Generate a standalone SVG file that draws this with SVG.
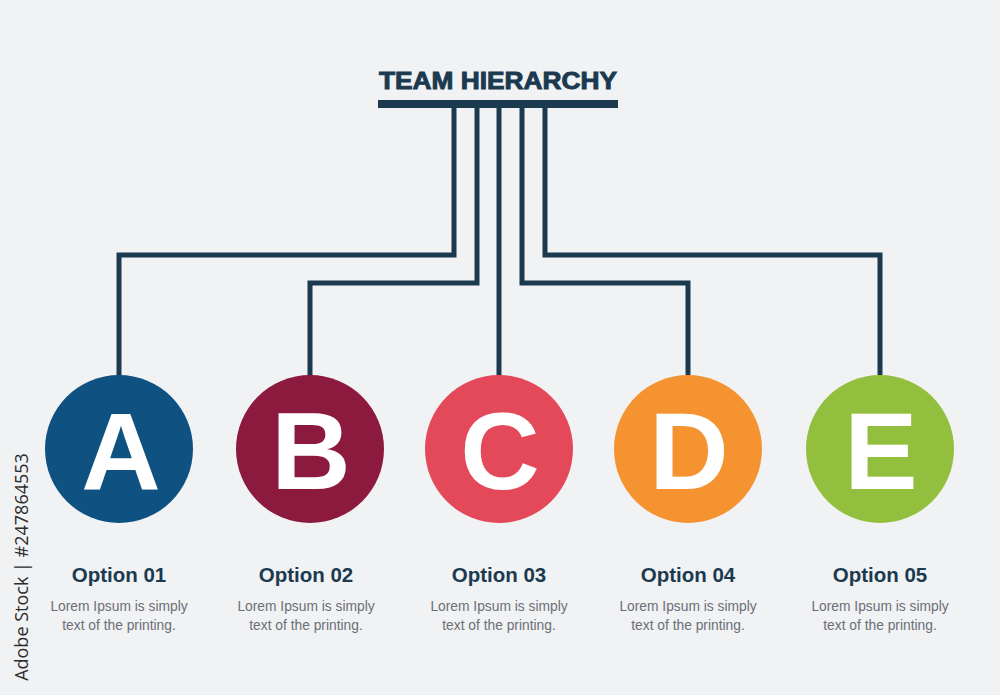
<svg xmlns="http://www.w3.org/2000/svg" width="1000" height="695" viewBox="0 0 1000 695">
<style>
.conn{fill:none;stroke:#1b3a50;stroke-width:5;stroke-linejoin:miter}
.letter{font-family:"Liberation Sans",Arial,sans-serif;font-weight:bold;font-size:110px;fill:#ffffff;text-anchor:middle}
.opt{font-family:"Liberation Sans",Arial,sans-serif;font-weight:bold;font-size:20.5px;fill:#1b3a50;text-anchor:middle}
.desc{font-family:"Liberation Sans",Arial,sans-serif;font-size:13.8px;fill:#6b6f76;text-anchor:middle}
</style>
<rect width="1000" height="695" fill="#f1f2f4"/>
<g id="title">
<text x="498" y="89" font-family="'Liberation Sans',Arial,sans-serif" font-weight="bold" font-size="23" fill="#1b3a50" stroke="#1b3a50" stroke-width="0.9" text-anchor="middle" textLength="238" lengthAdjust="spacingAndGlyphs">TEAM HIERARCHY</text>
<rect x="378" y="100" width="240" height="8" fill="#1b3a50"/>
</g>
<g id="connectors">
<path class="conn" d="M454,108 V255 H119 V376"/>
<path class="conn" d="M477,108 V283 H310 V376"/>
<path class="conn" d="M499,108 V376"/>
<path class="conn" d="M522,108 V283 H688 V376"/>
<path class="conn" d="M545,108 V255 H880 V376"/>
</g>
<g id="node-a">
<circle cx="119" cy="449" r="74" fill="#0f5282"/>
<text class="letter" x="121" y="489">A</text>
<text class="opt" x="119" y="582">Option 01</text>
<text class="desc" x="119" y="611">Lorem Ipsum is simply</text>
<text class="desc" x="119" y="630">text of the printing.</text>
</g>
<g id="node-b">
<circle cx="310" cy="449" r="74" fill="#8c1a3e"/>
<text class="letter" x="311" y="489">B</text>
<text class="opt" x="306" y="582">Option 02</text>
<text class="desc" x="306" y="611">Lorem Ipsum is simply</text>
<text class="desc" x="306" y="630">text of the printing.</text>
</g>
<g id="node-c">
<circle cx="499" cy="449" r="74" fill="#e4495a"/>
<text class="letter" x="500" y="489">C</text>
<text class="opt" x="499" y="582">Option 03</text>
<text class="desc" x="499" y="611">Lorem Ipsum is simply</text>
<text class="desc" x="499" y="630">text of the printing.</text>
</g>
<g id="node-d">
<circle cx="688" cy="449" r="74" fill="#f59331"/>
<text class="letter" x="689" y="489">D</text>
<text class="opt" x="688" y="582">Option 04</text>
<text class="desc" x="688" y="611">Lorem Ipsum is simply</text>
<text class="desc" x="688" y="630">text of the printing.</text>
</g>
<g id="node-e">
<circle cx="880" cy="449" r="74" fill="#92bf3e"/>
<text class="letter" x="881" y="489">E</text>
<text class="opt" x="880" y="582">Option 05</text>
<text class="desc" x="880" y="611">Lorem Ipsum is simply</text>
<text class="desc" x="880" y="630">text of the printing.</text>
</g>
<text transform="translate(28,567) rotate(-90)" font-family="'Open Sans','DejaVu Sans',sans-serif" font-size="18" fill="#2d2d2d" text-anchor="middle">Adobe Stock | #247864553</text>
</svg>
